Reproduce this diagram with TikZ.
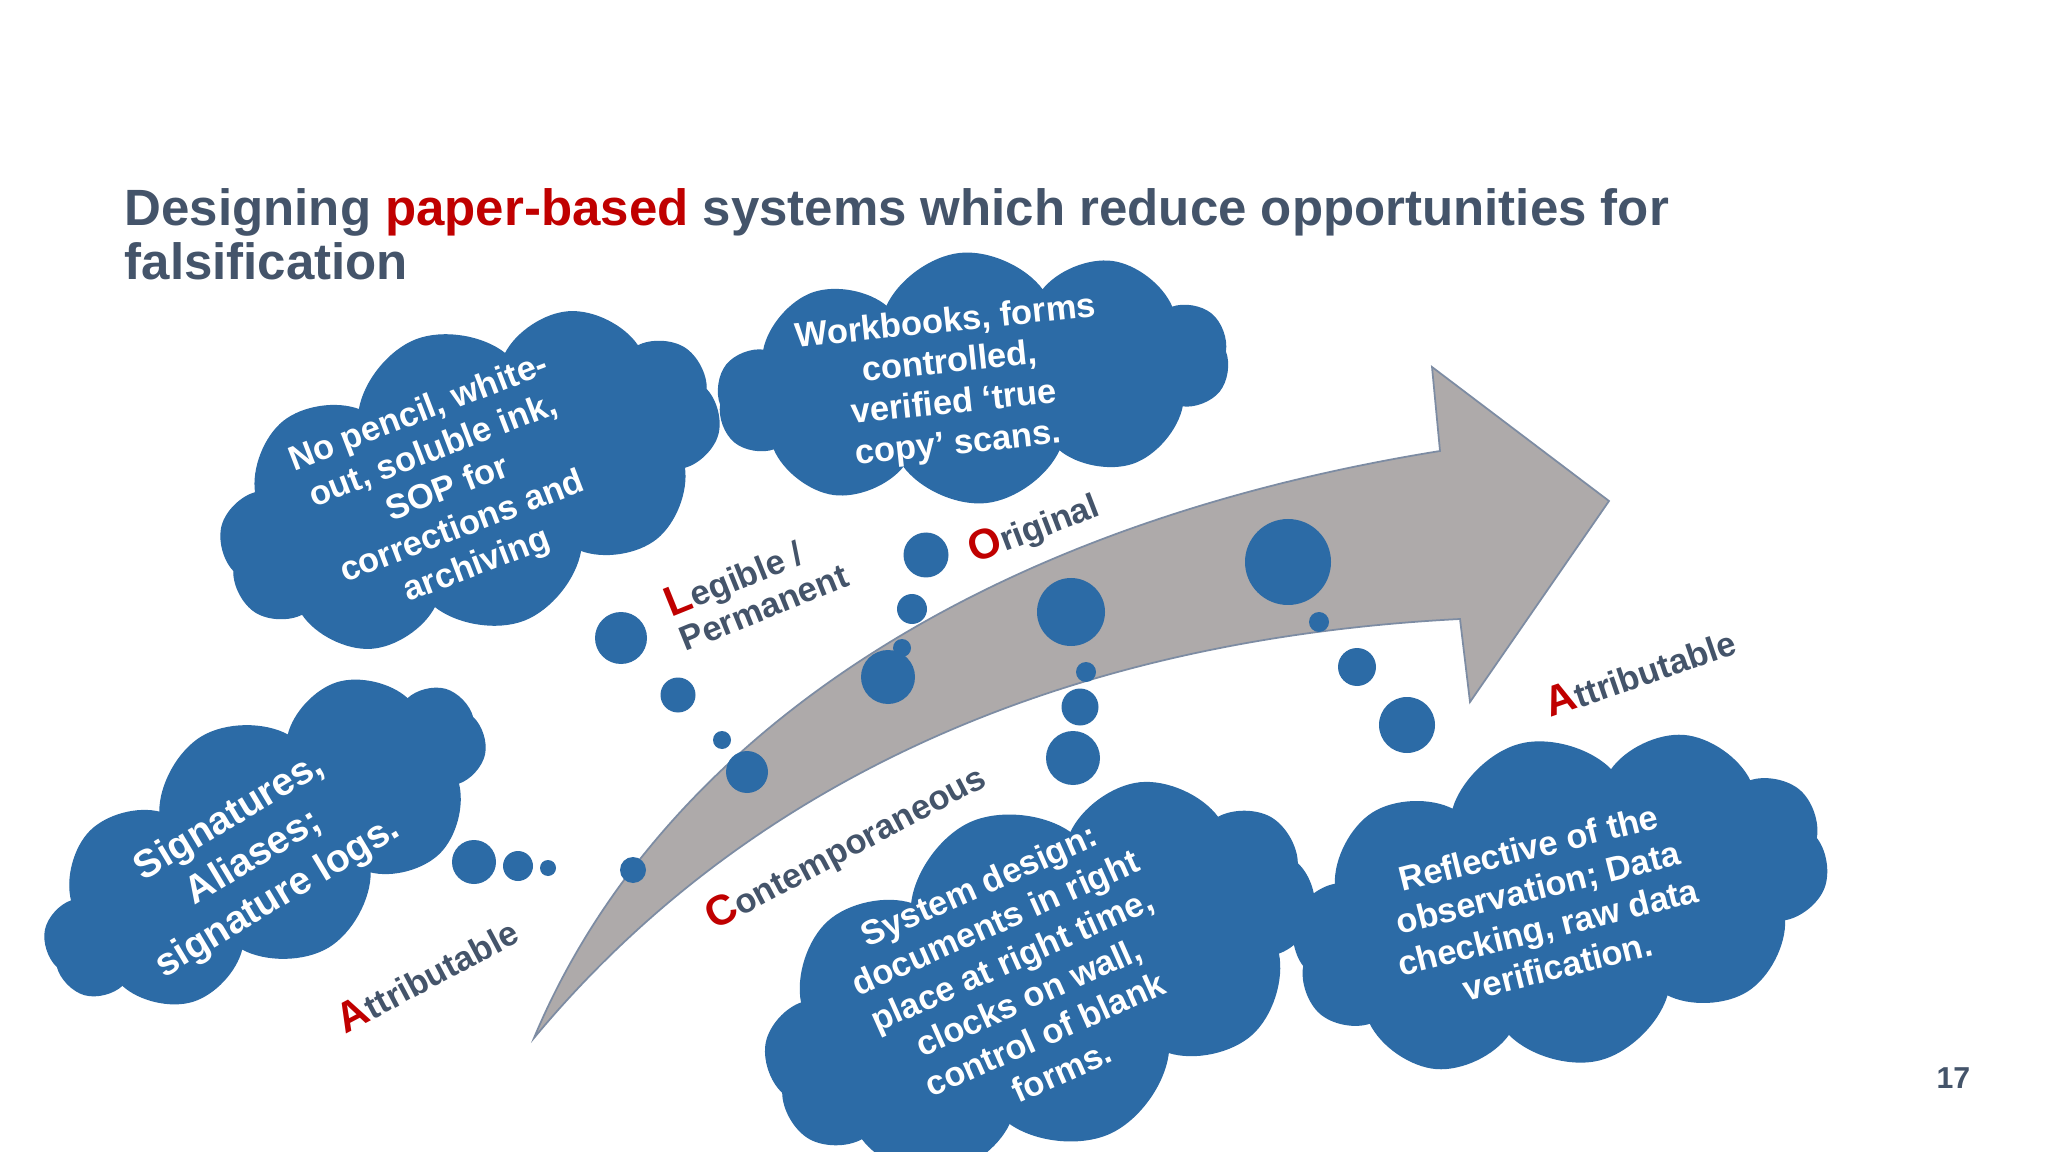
\documentclass[tikz,border=0pt]{standalone}
\usepackage{fontspec}
\setmainfont{Liberation Sans}
\usepackage{tikz}
\usetikzlibrary{shapes.symbols}
\definecolor{slidegray}{HTML}{44546A}
\definecolor{slidered}{HTML}{C00000}
\definecolor{cloudblue}{HTML}{2C6BA6}
\definecolor{arrowgray}{HTML}{AEAAAA}
\definecolor{arrowedge}{HTML}{7D8CA3}
\tikzset{
  headline/.style={anchor=base west, inner sep=0pt, text=slidegray, font=\bfseries\fontsize{14.5}{15.4}\selectfont},
  thought/.style={cloud, cloud puffs=10, cloud puff arc=120, fill=cloudblue, draw=cloudblue, inner sep=0pt},
  thoughttext/.style={text=white, font=\bfseries\fontsize{9.8}{11.6}\selectfont, align=center, inner sep=0pt},
  alcoa/.style={text=slidegray, font=\bfseries\fontsize{9.8}{10.6}\selectfont, align=left, inner sep=0pt},
  bubble/.style={fill=cloudblue}
}
\newcommand{\firstletter}[1]{{\color{slidered}\fontsize{12}{12}\selectfont #1}}

\begin{document}
\begin{tikzpicture}[x=0.01cm, y=-0.01cm]
  \path[use as bounding box, fill=white] (0,0) rectangle (2048,1152);

  % title
  \node[headline] (title) at (124,226) {Designing \textcolor{slidered}{paper-based} systems which reduce opportunities for};
  \node[headline] (title2) at (124,280) {falsification};

  % big curved arrow
  \coordinate (tail) at (534,1038);
  \fill[arrowgray, draw=arrowedge, line width=0.5pt] (tail) .. controls (650,760) and (950,530) .. (1440,451)
    -- (1432,367) -- (1609,501) -- (1470,702) -- (1460,619)
    .. controls (1050,640) and (740,790) .. (tail) -- cycle;

  % clouds
  \node[thought, rotate=21, minimum width=5.2cm, minimum height=3.0cm] (pencil) at (470,480) {};
  \node[thought, rotate=6, minimum width=5.12cm, minimum height=2.5cm] (forms) at (973,378) {};
  \node[thought, rotate=31, minimum width=4.9cm, minimum height=2.45cm] (signs) at (265,842) {};
  \node[thought, rotate=24, minimum width=5.8cm, minimum height=3.4cm] (design) at (1040,978) {};
  \node[thought, rotate=14, minimum width=5.45cm, minimum height=3.25cm] (reflect) at (1560,902) {};

  % bubbles
  \foreach \x/\y/\r in {474/862/22, 518/866/15, 548/868/8, 633/870/13,
                        621/638/26, 678/695/17.5, 722/740/9, 747/772/21,
                        926/555/22.5, 912/609/15, 902/648/9, 888/677/27,
                        1071/612/34, 1086/672/10, 1080/707/18.5, 1073/758/27,
                        1288/562/43, 1319/622/10, 1357/667/19, 1407/725/28}
    \fill[bubble] (\x,\y) circle (\r);

  % cloud texts
  \node[thoughttext, rotate=21] (pencilt) at (448,490) {No pencil, white-\\out, soluble ink,\\SOP for\\corrections and\\archiving};
  \node[thoughttext, rotate=6] (formst) at (952,384) {Workbooks, forms\\controlled,\\verified ‘true\\copy’ scans.};
  \node[thoughttext, rotate=31, font=\bfseries\fontsize{11.1}{13.3}\selectfont] (signst) at (254,858) {Signatures,\\Aliases;\\signature logs.};
  \node[thoughttext, rotate=24] (designt) at (1020,978) {System design:\\documents in right\\place at right time,\\clocks on wall,\\control of blank\\forms.};
  \node[thoughttext, rotate=14] (reflectt) at (1543,907) {Reflective of the\\observation; Data\\checking, raw data\\verification.};

  % ALCOA labels
  \node[alcoa, rotate=22] (legible) at (756,588) {\firstletter{L}egible /\\Permanent};
  \node[alcoa, rotate=21] (original) at (1034,529) {\firstletter{O}riginal};
  \node[alcoa, rotate=28] (contemp) at (846,848) {\firstletter{C}ontemporaneous};
  \node[alcoa, rotate=28] (attrleft) at (427,975) {\firstletter{A}ttributable};
  \node[alcoa, rotate=19] (attrright) at (1640,672) {\firstletter{A}ttributable};

  % slide number
  \node[anchor=base east, inner sep=0pt, text=slidegray, font=\bfseries\fontsize{8.6}{9}\selectfont] (pageno) at (1971,1088) {17};
\end{tikzpicture}
\end{document}
